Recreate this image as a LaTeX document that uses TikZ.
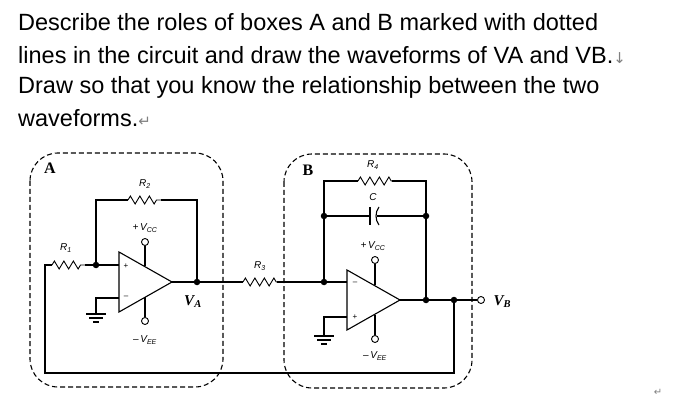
\documentclass[tikz,border=0pt]{standalone}
\usepackage{fontspec}
\setmainfont{Liberation Sans}
\newfontfamily\dejavu{DejaVu Sans}
\newfontfamily\serifb{Liberation Serif}
\usetikzlibrary{decorations.pathmorphing}
\begin{document}
\begin{tikzpicture}[x=1pt,y=-1pt,
  wire/.style={line width=1.1pt},
  zz/.style={line width=0.9pt,decorate,decoration={zigzag,segment length=9.5pt,amplitude=4pt}},
  jdot/.style={shape=circle,fill=black,draw=none,inner sep=0pt,minimum size=6.5pt},
  term/.style={shape=circle,draw,line width=0.9pt,fill=white,inner sep=0pt,minimum size=7pt},
  box/.style={line width=1.1pt,rounded corners=28pt,dash pattern=on 5pt off 3pt},
  lbl/.style={font=\fontsize{10}{10}\selectfont\itshape},
  vlbl/.style={font=\serifb\bfseries\itshape\fontsize{15}{15}\selectfont},
  txt/.style={anchor=west,font=\fontsize{23.5}{23.5}\selectfont,inner sep=0pt}]
\useasboundingbox (0,0) rectangle (676,419);
% text
\node[txt] (t1) at (18,22) {Describe the roles of boxes A and B marked with dotted};
\node[txt] (t2) at (18,55) {lines in the circuit and draw the waveforms of VA and VB.{\dejavu\fontsize{15}{15}\selectfont\color{gray}↓}};
\node[txt] (t3) at (18,87) {Draw so that you know the relationship between the two};
\node[txt] (t4) at (18,118) {waveforms.{\dejavu\fontsize{15}{15}\selectfont\color{gray}↵}};
\node[font=\dejavu\fontsize{10}{10}\selectfont,text=gray] (ret) at (658,392) {↵};
% boxes
\draw[box] (30,153) rectangle (223,387);
\draw[box] (284,154) rectangle (472,388);
\node[font=\serifb\bfseries\fontsize{16}{16}\selectfont] (A) at (50,168) {A};
\node[font=\serifb\bfseries\fontsize{16}{16}\selectfont] (B) at (308,170) {B};
% coordinates
\coordinate (r1a) at (45,265); \coordinate (r1s) at (52,265); \coordinate (r1e) at (85,265);
\node[jdot] (j1) at (96,265) {};
\coordinate (r2l) at (96,200); \coordinate (r2s) at (128,200); \coordinate (r2e) at (161,200); \coordinate (r2r) at (197,200);
\node[jdot] (ja) at (197,282) {};
% opamp A
\draw[wire] (119,252) -- (172,282) -- (119,312) -- cycle;
\coordinate (ainp) at (119,265); \coordinate (ainm) at (119,298); \coordinate (aout) at (172,282);
\node[font=\fontsize{8}{8}\selectfont] at (126,266) {+};
\node[font=\fontsize{8}{8}\selectfont] at (126,297) {--};
\node[term] (avcc) at (145,242) {};
\node[term] (avee) at (145,321) {};
\draw[wire] (avcc) -- (145,266);
\draw[wire] (avee) -- (145,297);
\node[lbl] at (145,228) {+\,V\textsubscript{CC}};
\node[lbl] at (145,340) {--\,V\textsubscript{EE}};
\draw[wire] (ainm) -- (96,298) -- (96,314);
\draw[wire] (86,314) -- (106,314) (89,318) -- (103,318) (93,322) -- (99,322);
\draw[wire] (r1a) -- (r1s); \draw[zz] (r1s) -- (r1e); \draw[wire] (r1e) -- (j1) -- (ainp);
\draw[wire] (j1) -- (r2l) -- (r2s); \draw[zz] (r2s) -- (r2e); \draw[wire] (r2e) -- (r2r) -- (ja);
\node[lbl] at (66,248) {R\textsubscript{1}};
\node[lbl] at (145,184) {R\textsubscript{2}};
\node[vlbl] at (193,302) {V\textsubscript{A}};
% R3
\coordinate (r3s) at (243,282); \coordinate (r3e) at (277,282);
\node[jdot] (jb1) at (324,282) {};
\draw[wire] (aout) -- (ja) -- (r3s); \draw[zz] (r3s) -- (r3e); \draw[wire] (r3e) -- (jb1);
\node[lbl] at (260,266) {R\textsubscript{3}};
% opamp B
\draw[wire] (347,270) -- (400,300) -- (347,330) -- cycle;
\coordinate (binm) at (347,282); \coordinate (binp) at (347,317); \coordinate (bout) at (400,300);
\node[font=\fontsize{8}{8}\selectfont] at (355,283) {--};
\node[font=\fontsize{8}{8}\selectfont] at (355,317) {+};
\node[term] (bvcc) at (375,260) {};
\node[term] (bvee) at (375,339) {};
\draw[wire] (bvcc) -- (375,285);
\draw[wire] (bvee) -- (375,315);
\node[lbl] at (373,246) {+\,V\textsubscript{CC}};
\node[lbl] at (375,356) {--\,V\textsubscript{EE}};
\draw[wire] (binp) -- (324,317) -- (324,336);
\draw[wire] (314,336) -- (334,336) (317,340) -- (331,340) (321,344) -- (327,344);
\draw[wire] (jb1) -- (binm);
% feedback B
\node[jdot] (jc1) at (324,216) {};
\node[jdot] (jc2) at (426,216) {};
\node[jdot] (jb2) at (426,300) {};
\node[jdot] (jb3) at (454,300) {};
\node[term] (vbt) at (481,300) {};
\coordinate (r4l) at (324,181); \coordinate (r4s) at (358,181); \coordinate (r4e) at (392,181); \coordinate (r4r) at (426,181);
\draw[wire] (jb1) -- (jc1) -- (r4l) -- (r4s); \draw[zz] (r4s) -- (r4e); \draw[wire] (r4e) -- (r4r) -- (jc2) -- (jb2);
\draw[wire] (jc1) -- (370,216) (jc2) -- (377,216);
\draw[wire] (370,207) -- (370,225);
\draw[wire] (379,207) .. controls (375,212) and (375,220) .. (379,225);
\node[lbl] at (373,165) {R\textsubscript{4}};
\node[lbl] at (373,197) {C};
\draw[wire] (bout) -- (jb2) -- (jb3) -- (vbt);
\node[vlbl,anchor=west] at (490,302) {V\textsubscript{B}};
% bottom wire
\draw[wire] (r1s) -- (r1a) -- (45,373) -- (454,373) -- (jb3);
\end{tikzpicture}
\end{document}
